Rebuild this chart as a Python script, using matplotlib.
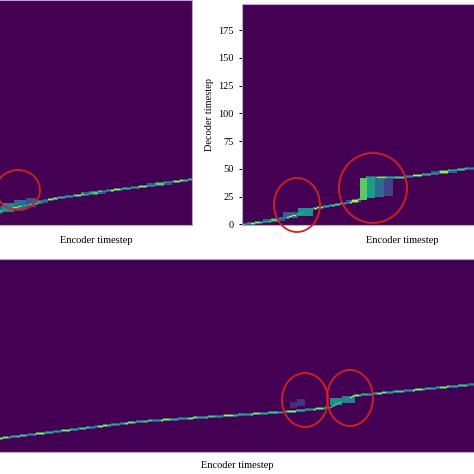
import numpy as np
import matplotlib
matplotlib.use("Agg")
import matplotlib.pyplot as plt
from matplotlib.patches import Ellipse

# --- alignment paths (encoder step, decoder step) ---
tl_enc = [0, 60, 120, 252]
tl_dec = [3, 12, 24, 40]
tl_blocks = [(50, 62, 10, 17, 0.3), (62, 74, 12, 20, 0.45),
             (74, 86, 14, 22, 0.35), (86, 96, 16, 24, 0.25)]

tr_enc = [0, 41, 72, 118, 124, 158, 270]
tr_dec = [0, 5, 14, 22, 42, 42, 55]
tr_blocks = [(41, 56, 6, 12, 0.3), (56, 71, 8, 15, 0.5),
             (118, 125, 22, 42, 0.75), (125, 133, 24, 42, 0.55),
             (133, 142, 25, 42, 0.35), (142, 151, 26, 42, 0.2)]

bt_enc = [0, 150, 300, 340, 345, 365, 494]
bt_dec = [12, 30, 40, 44, 47, 56, 68]
bt_blocks = [(300, 307, 44, 50, 0.12), (307, 315, 46, 53, 0.15),
             (340, 352, 47, 54, 0.5), (352, 365, 49, 56, 0.45)]
line_levels = [0.55, 0.9, 0.6, 0.75, 0.5, 0.95, 0.65]

def build(enc, dec, blocks, n_enc, n_dec):
    m = np.zeros((n_dec, n_enc))
    xs = np.arange(n_enc)
    ys = np.interp(xs, enc, dec)
    for x, y in zip(xs, ys):
        lv = line_levels[(x // 9) % len(line_levels)]
        yi = int(round(y))
        for d in (-1, 0, 1):
            if 0 <= yi + d < n_dec:
                m[yi + d, x] = max(m[yi + d, x], lv * (1.0 if d == 0 else 0.5))
    for e0, e1, d0, d1, lv in blocks:
        m[d0:d1, e0:e1] = np.maximum(m[d0:d1, e0:e1], lv)
    return m

W = H = 474
fig = plt.figure(figsize=(4.74, 4.74), dpi=100)

def ax_px(l, t, r, b):
    return fig.add_axes([l / W, 1 - b / H, (r - l) / W, (b - t) / H])

serif = "Liberation Serif"
spine_col = "#b9a9c9"

# top-left
a1 = ax_px(-60, 0, 192, 225)
m1 = build(tl_enc, tl_dec, tl_blocks, 252, 200)
a1.imshow(m1, origin="lower", aspect="auto", cmap="viridis", vmin=0, vmax=1,
          interpolation="nearest")
a1.set_xticks([]); a1.set_yticks([])
fig.text(96 / W, 1 - 240 / H, "Encoder timestep", ha="center", va="center",
         family=serif, fontsize=7.5)

# top-right
a2 = ax_px(242, 4, 520, 225)
m2 = build(tr_enc, tr_dec, tr_blocks, 278, 199)
a2.imshow(m2, origin="lower", aspect="auto", cmap="viridis", vmin=0, vmax=1,
          interpolation="nearest")
a2.set_xticks([])
a2.set_yticks([0, 25, 50, 75, 100, 125, 150, 175])
a2.tick_params(axis="y", labelsize=7.5, length=2.5)
for lab in a2.get_yticklabels():
    lab.set_family(serif)
a2.set_ylabel("Decoder timestep", family=serif, fontsize=7.5, labelpad=3)
fig.text(402 / W, 1 - 240 / H, "Encoder timestep", ha="center", va="center",
         family=serif, fontsize=7.5)

# bottom
a3 = ax_px(-10, 259, 484, 452)
m3 = build(bt_enc, bt_dec, bt_blocks, 494, 193)
a3.imshow(m3, origin="lower", aspect="auto", cmap="viridis", vmin=0, vmax=1,
          interpolation="nearest")
a3.set_xticks([]); a3.set_yticks([])
fig.text(237 / W, 1 - 465 / H, "Encoder timestep", ha="center", va="center",
         family=serif, fontsize=7.5)

for a in (a1, a2, a3):
    for s in a.spines.values():
        s.set_color(spine_col)

# red circles overlay
ov = fig.add_axes([0, 0, 1, 1])
ov.set_xlim(0, W); ov.set_ylim(H, 0); ov.axis("off")
for cx, cy, w, h in [(18, 190, 44, 40), (297, 205, 46, 54), (373, 188, 68, 70),
                     (305, 400, 46, 54), (350, 398, 46, 56)]:
    ov.add_patch(Ellipse((cx, cy), w, h, fill=False, ec="#d62020", lw=1.3))

fig.savefig("out.png", dpi=100)
